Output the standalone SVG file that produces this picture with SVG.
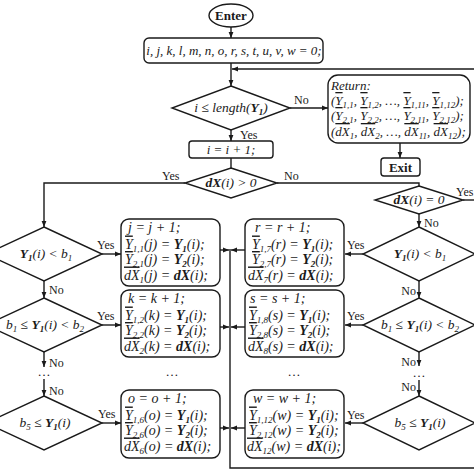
<svg xmlns="http://www.w3.org/2000/svg" width="474" height="474" viewBox="0 0 474 474">
<style>
.s{fill:none;stroke:#1a1a1a;stroke-width:1.4}
.n{fill:#fff;stroke:#1a1a1a;stroke-width:1.4}
text{font-family:"Liberation Serif","DejaVu Serif",serif;fill:#1a1a1a}
.t{font-size:13px;font-style:italic}
.d{font-size:13.5px;font-style:italic}
.bx{font-size:14px;font-style:italic}
.l{font-size:12px}
.hb{font-size:13px;font-weight:bold}
.b{font-weight:bold}
.sub{font-size:9px}
.ob{text-decoration:overline}
.dots{font-size:13px}
</style>
<defs>
<marker id="ah" viewBox="0 0 10 10" refX="10" refY="5" markerWidth="6" markerHeight="6" orient="auto" markerUnits="userSpaceOnUse">
<path d="M0,1 L10,5 L0,9 z" fill="#1a1a1a"/>
</marker>
</defs>
<rect width="474" height="474" fill="#fff"/>

<g id="connectors">
<path class="s" d="M231,27 V38" marker-end="url(#ah)"/>
<path class="s" d="M231,63 V86" marker-end="url(#ah)"/>
<path class="s" d="M474,69 H232" marker-end="url(#ah)"/>
<path class="s" d="M290,108 H328" marker-end="url(#ah)"/>
<path class="s" d="M400,143 V158" marker-end="url(#ah)"/>
<path class="s" d="M231,130 V141" marker-end="url(#ah)"/>
<path class="s" d="M231,158 V168"/>
<path class="s" d="M185,183 H44 V227" marker-end="url(#ah)"/>
<path class="s" d="M277,183 H419 V186"/>
<path class="s" d="M463,200 H474"/>
<path class="s" d="M419,214 V227" marker-end="url(#ah)"/>
<path class="s" d="M44,281 V298" marker-end="url(#ah)"/>
<path class="s" d="M44,352 V367" marker-end="url(#ah)"/>
<path class="s" d="M44,379 V396" marker-end="url(#ah)"/>
<path class="s" d="M419,281 V298" marker-end="url(#ah)"/>
<path class="s" d="M419,352 V366" marker-end="url(#ah)"/>
<path class="s" d="M419,380 V396" marker-end="url(#ah)"/>
<path class="s" d="M102,254 H121" marker-end="url(#ah)"/>
<path class="s" d="M102,325 H121" marker-end="url(#ah)"/>
<path class="s" d="M102,423 H121" marker-end="url(#ah)"/>
<path class="s" d="M363,254 H345" marker-end="url(#ah)"/>
<path class="s" d="M363,325 H345" marker-end="url(#ah)"/>
<path class="s" d="M363,423 H345" marker-end="url(#ah)"/>
<path class="s" d="M220,250 H229" marker-end="url(#ah)"/>
<path class="s" d="M220,327 H229" marker-end="url(#ah)"/>
<path class="s" d="M220,428 H229" marker-end="url(#ah)"/>
<path class="s" d="M245,250 H231" marker-end="url(#ah)"/>
<path class="s" d="M245,327 H231" marker-end="url(#ah)"/>
<path class="s" d="M245,428 H231" marker-end="url(#ah)"/>
<path class="s" d="M230,249 V468 H474"/>
<text class="l" x="294" y="104">No</text>
<text class="l" x="240" y="139">Yes</text>
<text class="l" x="162" y="180">Yes</text>
<text class="l" x="284" y="180">No</text>
<text class="l" x="456" y="196">Yes</text>
<text class="l" x="424" y="227">No</text>
<text class="l" x="49" y="294">No</text>
<text class="l" x="49" y="367">No</text>
<text class="l" x="49" y="395">No</text>
<text class="l" x="416" y="295" text-anchor="end">No</text>
<text class="l" x="416" y="366" text-anchor="end">No</text>
<text class="l" x="416" y="391" text-anchor="end">No</text>
<text class="l" x="97" y="249">Yes</text>
<text class="l" x="97" y="320">Yes</text>
<text class="l" x="98" y="418">Yes</text>
<text class="l" x="347" y="249">Yes</text>
<text class="l" x="347" y="320">Yes</text>
<text class="l" x="347" y="419">Yes</text>
<text class="dots" x="44" y="376" text-anchor="middle">…</text>
<text class="dots" x="419" y="377" text-anchor="middle">…</text>
<text class="dots" x="172" y="376" text-anchor="middle">…</text>
<text class="dots" x="294" y="376" text-anchor="middle">…</text>
</g>

<g id="enter">
<ellipse class="n" cx="231" cy="15.5" rx="22" ry="11.5"/>
<text class="hb" x="231" y="20" text-anchor="middle">Enter</text>
</g>

<g id="init">
<rect class="n" x="144" y="38" width="179" height="25" rx="5"/>
<text class="t" x="234" y="55" text-anchor="middle">i, j, k, l, m, n, o, r, s, t, u, v, w = 0;</text>
</g>

<g id="cond-length">
<polygon class="n" points="231,86 290,108 231,130 172,108"/>
<text class="d" x="231" y="112" text-anchor="middle">i ≤ length(<tspan class="b">Y</tspan><tspan class="b sub" dy="3">1</tspan><tspan dy="-3">)</tspan></text>
</g>

<g id="return">
<rect class="n" x="328" y="75" width="142" height="68" rx="10"/>
<text class="t" x="331" y="90">Return:</text>
<text class="t" x="331" y="105">(<tspan class="ob">Y</tspan><tspan class="sub" dy="3">1,1</tspan><tspan dy="-3">, </tspan><tspan class="ob">Y</tspan><tspan class="sub" dy="3">1,2</tspan><tspan dy="-3">, …, </tspan><tspan class="ob">Y</tspan><tspan class="sub" dy="3">1,11</tspan><tspan dy="-3">, </tspan><tspan class="ob">Y</tspan><tspan class="sub" dy="3">1,12</tspan><tspan dy="-3">);</tspan></text>
<text class="t" x="331" y="120">(<tspan class="ob">Y</tspan><tspan class="sub" dy="3">2,1</tspan><tspan dy="-3">, </tspan><tspan class="ob">Y</tspan><tspan class="sub" dy="3">2,2</tspan><tspan dy="-3">, …, </tspan><tspan class="ob">Y</tspan><tspan class="sub" dy="3">2,11</tspan><tspan dy="-3">, </tspan><tspan class="ob">Y</tspan><tspan class="sub" dy="3">2,12</tspan><tspan dy="-3">);</tspan></text>
<text class="t" x="331" y="136">(<tspan class="ob">dX</tspan><tspan class="sub" dy="3">1</tspan><tspan dy="-3">, </tspan><tspan class="ob">dX</tspan><tspan class="sub" dy="3">2</tspan><tspan dy="-3">, …, </tspan><tspan class="ob">dX</tspan><tspan class="sub" dy="3">11</tspan><tspan dy="-3">, </tspan><tspan class="ob">dX</tspan><tspan class="sub" dy="3">12</tspan><tspan dy="-3">);</tspan></text>
</g>

<g id="exit">
<rect class="n" x="381" y="158" width="39" height="18" rx="3"/>
<text class="hb" x="400.5" y="171.5" text-anchor="middle">Exit</text>
</g>

<g id="inc-i">
<rect class="n" x="189" y="141" width="84" height="17" rx="3"/>
<text class="t" x="231" y="154" text-anchor="middle">i = i + 1;</text>
</g>

<g id="cond-pos">
<polygon class="n" points="231,168 277,183 231,198 185,183"/>
<text class="d" x="231" y="187" text-anchor="middle"><tspan class="b">dX</tspan>(i) &gt; 0</text>
</g>

<g id="cond-zero">
<polygon class="n" points="419,186 463,200 419,214 375,200"/>
<text class="d" x="419" y="204" text-anchor="middle"><tspan class="b">dX</tspan>(i) = 0</text>
</g>

<g id="L1">
<polygon class="n" points="44,227 102,254 44,281 -14,254"/>
<text class="d" x="46" y="258" text-anchor="middle"><tspan class="b">Y</tspan><tspan class="b sub" dy="3">1</tspan><tspan dy="-3">(i) &lt; b</tspan><tspan class="sub" dy="3">1</tspan></text>
</g>
<g id="L2">
<polygon class="n" points="44,298 102,325 44,352 -14,325"/>
<text class="d" x="45" y="329" text-anchor="middle">b<tspan class="sub" dy="3">1</tspan><tspan dy="-3"> ≤ </tspan><tspan class="b">Y</tspan><tspan class="b sub" dy="3">1</tspan><tspan dy="-3">(i) &lt; b</tspan><tspan class="sub" dy="3">2</tspan></text>
</g>
<g id="L3">
<polygon class="n" points="44,396 102,423 44,450 -14,423"/>
<text class="d" x="45" y="427" text-anchor="middle">b<tspan class="sub" dy="3">5</tspan><tspan dy="-3"> ≤ </tspan><tspan class="b">Y</tspan><tspan class="b sub" dy="3">1</tspan><tspan dy="-3">(i)</tspan></text>
</g>

<g id="R1">
<polygon class="n" points="419,227 475,254 419,281 363,254"/>
<text class="d" x="420" y="258" text-anchor="middle"><tspan class="b">Y</tspan><tspan class="b sub" dy="3">1</tspan><tspan dy="-3">(i) &lt; b</tspan><tspan class="sub" dy="3">1</tspan></text>
</g>
<g id="R2">
<polygon class="n" points="419,298 475,325 419,352 363,325"/>
<text class="d" x="420" y="329" text-anchor="middle">b<tspan class="sub" dy="3">1</tspan><tspan dy="-3"> ≤ </tspan><tspan class="b">Y</tspan><tspan class="b sub" dy="3">1</tspan><tspan dy="-3">(i) &lt; b</tspan><tspan class="sub" dy="3">2</tspan></text>
</g>
<g id="R3">
<polygon class="n" points="419,396 475,423 419,450 363,423"/>
<text class="d" x="420" y="427" text-anchor="middle">b<tspan class="sub" dy="3">5</tspan><tspan dy="-3"> ≤ </tspan><tspan class="b">Y</tspan><tspan class="b sub" dy="3">1</tspan><tspan dy="-3">(i)</tspan></text>
</g>

<g id="box-j">
<rect class="n" x="121" y="219" width="99" height="67" rx="8"/>
<text class="bx" x="128" y="232">j = j + 1;</text>
<text class="bx" x="125" y="248.5"><tspan class="ob">Y</tspan><tspan class="sub" dy="3">1,1</tspan><tspan dy="-3">(j) = </tspan><tspan class="b">Y</tspan><tspan class="b sub" dy="3">1</tspan><tspan dy="-3">(i);</tspan></text>
<text class="bx" x="125" y="264"><tspan class="ob">Y</tspan><tspan class="sub" dy="3">2,1</tspan><tspan dy="-3">(j) = </tspan><tspan class="b">Y</tspan><tspan class="b sub" dy="3">2</tspan><tspan dy="-3">(i);</tspan></text>
<text class="bx" x="124" y="279.5"><tspan class="ob">dX</tspan><tspan class="sub" dy="3">1</tspan><tspan dy="-3">(j) = </tspan><tspan class="b">dX</tspan>(i);</text>
</g>
<g id="box-k">
<rect class="n" x="121" y="290" width="99" height="67" rx="8"/>
<text class="bx" x="128" y="303">k = k + 1;</text>
<text class="bx" x="125" y="319.5"><tspan class="ob">Y</tspan><tspan class="sub" dy="3">1,2</tspan><tspan dy="-3">(k) = </tspan><tspan class="b">Y</tspan><tspan class="b sub" dy="3">1</tspan><tspan dy="-3">(i);</tspan></text>
<text class="bx" x="125" y="335"><tspan class="ob">Y</tspan><tspan class="sub" dy="3">2,2</tspan><tspan dy="-3">(k) = </tspan><tspan class="b">Y</tspan><tspan class="b sub" dy="3">2</tspan><tspan dy="-3">(i);</tspan></text>
<text class="bx" x="124" y="350.5"><tspan class="ob">dX</tspan><tspan class="sub" dy="3">2</tspan><tspan dy="-3">(k) = </tspan><tspan class="b">dX</tspan>(i);</text>
</g>
<g id="box-o">
<rect class="n" x="121" y="390" width="99" height="68" rx="8"/>
<text class="bx" x="128" y="403">o = o + 1;</text>
<text class="bx" x="125" y="419.5"><tspan class="ob">Y</tspan><tspan class="sub" dy="3">1,6</tspan><tspan dy="-3">(o) = </tspan><tspan class="b">Y</tspan><tspan class="b sub" dy="3">1</tspan><tspan dy="-3">(i);</tspan></text>
<text class="bx" x="125" y="435"><tspan class="ob">Y</tspan><tspan class="sub" dy="3">2,6</tspan><tspan dy="-3">(o) = </tspan><tspan class="b">Y</tspan><tspan class="b sub" dy="3">2</tspan><tspan dy="-3">(i);</tspan></text>
<text class="bx" x="124" y="450.5"><tspan class="ob">dX</tspan><tspan class="sub" dy="3">6</tspan><tspan dy="-3">(o) =  </tspan><tspan class="b">dX</tspan>(i);</text>
</g>

<g id="box-r">
<rect class="n" x="245" y="219" width="99" height="67" rx="8"/>
<text class="bx" x="255" y="232">r = r + 1;</text>
<text class="bx" x="252" y="248.5"><tspan class="ob">Y</tspan><tspan class="sub" dy="3">1,7</tspan><tspan dy="-3">(r) = </tspan><tspan class="b">Y</tspan><tspan class="b sub" dy="3">1</tspan><tspan dy="-3">(i);</tspan></text>
<text class="bx" x="252" y="264"><tspan class="ob">Y</tspan><tspan class="sub" dy="3">2,7</tspan><tspan dy="-3">(r) = </tspan><tspan class="b">Y</tspan><tspan class="b sub" dy="3">2</tspan><tspan dy="-3">(i);</tspan></text>
<text class="bx" x="248" y="279.5"><tspan class="ob">dX</tspan><tspan class="sub" dy="3">7</tspan><tspan dy="-3">(r) =  </tspan><tspan class="b">dX</tspan>(i);</text>
</g>
<g id="box-s">
<rect class="n" x="245" y="290" width="99" height="67" rx="8"/>
<text class="bx" x="250" y="303">s = s + 1;</text>
<text class="bx" x="249" y="319.5"><tspan class="ob">Y</tspan><tspan class="sub" dy="3">1,8</tspan><tspan dy="-3">(s) = </tspan><tspan class="b">Y</tspan><tspan class="b sub" dy="3">1</tspan><tspan dy="-3">(i);</tspan></text>
<text class="bx" x="249" y="335"><tspan class="ob">Y</tspan><tspan class="sub" dy="3">2,8</tspan><tspan dy="-3">(s) = </tspan><tspan class="b">Y</tspan><tspan class="b sub" dy="3">2</tspan><tspan dy="-3">(i);</tspan></text>
<text class="bx" x="248" y="350.5"><tspan class="ob">dX</tspan><tspan class="sub" dy="3">8</tspan><tspan dy="-3">(s) =  </tspan><tspan class="b">dX</tspan>(i);</text>
</g>
<g id="box-w">
<rect class="n" x="245" y="390" width="99" height="68" rx="8"/>
<text class="bx" x="253" y="403">w = w + 1;</text>
<text class="bx" x="249" y="419.5"><tspan class="ob">Y</tspan><tspan class="sub" dy="3">1,12</tspan><tspan dy="-3">(w) = </tspan><tspan class="b">Y</tspan><tspan class="b sub" dy="3">1</tspan><tspan dy="-3">(i);</tspan></text>
<text class="bx" x="249" y="435"><tspan class="ob">Y</tspan><tspan class="sub" dy="3">2,12</tspan><tspan dy="-3">(w) = </tspan><tspan class="b">Y</tspan><tspan class="b sub" dy="3">2</tspan><tspan dy="-3">(i);</tspan></text>
<text class="bx" x="247" y="450.5"><tspan class="ob">dX</tspan><tspan class="sub" dy="3">12</tspan><tspan dy="-3">(w) =  </tspan><tspan class="b">dX</tspan>(i);</text>
</g>
</svg>
